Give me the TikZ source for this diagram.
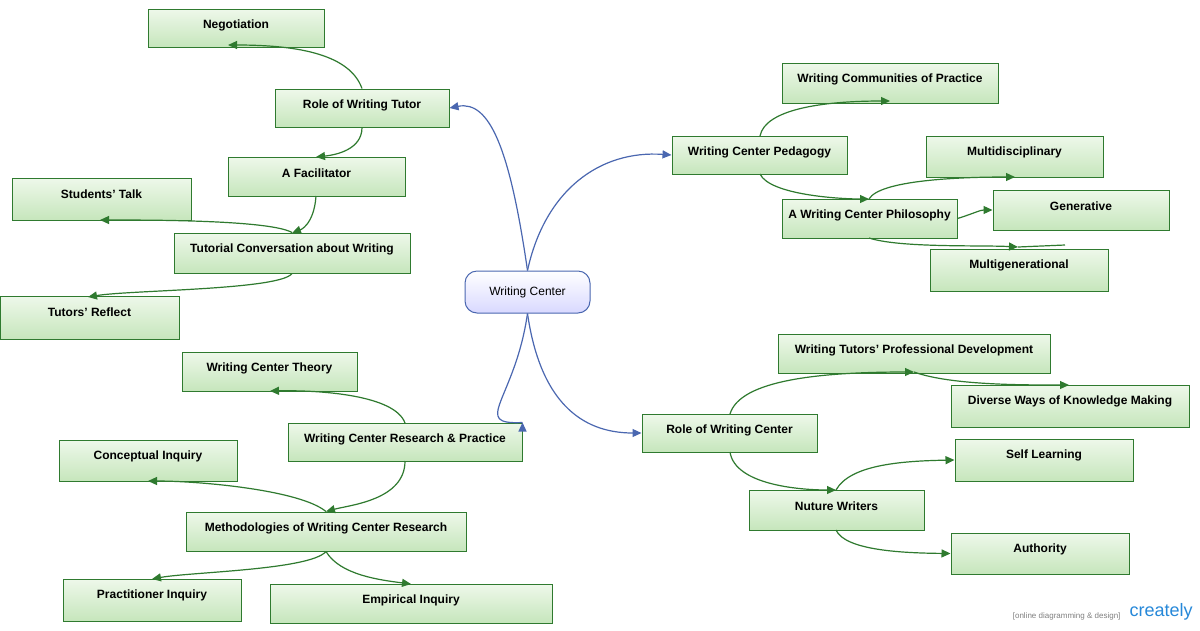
\documentclass[tikz,border=0pt]{standalone}
\usepackage{fontspec}
\setmainfont{Liberation Sans}
\usetikzlibrary{arrows.meta}
\definecolor{gb}{HTML}{2F7A2F}
\definecolor{gtop}{HTML}{EEF8EA}
\definecolor{gbot}{HTML}{C6E6BC}
\definecolor{bl}{HTML}{4A67B0}
\tikzset{
 box/.style={draw=gb,line width=1pt,top color=gtop,bottom color=gbot,inner sep=0pt},
 lbl/.style={font=\fontsize{12}{14}\selectfont\bfseries,inner sep=0pt},
 g/.style={draw=gb,line width=1.2pt,-{Triangle[length=9pt,width=8pt]}},
 b/.style={draw=bl,line width=1.2pt,-{Triangle[length=9pt,width=8pt]}},
}
\newcommand{\bx}[6]{%
 \node[box,minimum width={#4-#2},minimum height={#5-#3}] (#1) at ({(#2+#4)/2},{(#3+#5)/2}) {};
 \node[lbl] (#1-t) at ({(#2+#4)/2},{#3+16}) {#6};}
\begin{document}
\begin{tikzpicture}[x=1pt,y=-1pt]
\useasboundingbox (0,0) rectangle (1200,630);
\fill[white] (0,0) rectangle (1200,630);
\bx{neg}{148}{9}{324}{47}{Negotiation}
\bx{rwt}{275}{89}{449}{127}{Role of Writing Tutor}
\bx{fac}{228}{157}{405}{196}{A Facilitator}
\bx{st}{12}{178}{191}{220}{Students' Talk}
\bx{tc}{174}{233}{410}{273}{Tutorial Conversation about Writing}
\bx{tr}{0}{296}{179}{339}{Tutors' Reflect}
\bx{wct}{182}{352}{357}{391}{Writing Center Theory}
\bx{rp}{288}{423}{522}{461}{Writing Center Research \& Practice}
\bx{ci}{59}{440}{237}{481}{Conceptual Inquiry}
\bx{meth}{186}{512}{466}{551}{Methodologies of Writing Center Research}
\bx{pi}{63}{579}{241}{621}{Practitioner Inquiry}
\bx{ei}{270}{584}{552}{623}{Empirical Inquiry}
\bx{wcp}{782}{63}{998}{103}{Writing Communities of Practice}
\bx{ped}{672}{136}{847}{174}{Writing Center Pedagogy}
\bx{md}{926}{136}{1103}{177}{Multidisciplinary}
\bx{phil}{782}{199}{957}{238}{A Writing Center Philosophy}
\bx{gen}{993}{190}{1169}{230}{Generative}
\bx{mg}{930}{249}{1108}{291}{Multigenerational}
\bx{pd}{778}{334}{1050}{373}{Writing Tutors' Professional Development}
\bx{dw}{951}{385}{1189}{427}{Diverse Ways of Knowledge Making}
\bx{rwc}{642}{414}{817}{452}{Role of Writing Center}
\bx{sl}{955}{439}{1133}{481}{Self Learning}
\bx{nw}{749}{490}{924}{530}{Nuture Writers}
\bx{au}{951}{533}{1129}{574}{Authority}
\node[draw=bl,line width=1pt,rounded corners=12pt,top color=white,bottom color=blue!15,
 minimum width=125,minimum height=42,font=\fontsize{12}{14}\selectfont] (wc) at (527.5,292) {Writing Center};
% blue
\draw[b] (wc.north) .. controls (510,150) and (490,100) .. (rwt.east);
\draw[b] (wc.north) .. controls (545,190) and (600,150) .. (ped.west);
\draw[b] (wc.south) .. controls (515,400) and (470,425) .. (rp.north east) ++(0,0);
\draw[b] (wc.south) .. controls (540,400) and (580,433) .. (rwc.west);
% green
\coordinate (a1) at (228,45); \draw[g] (rwt.north) .. controls (350,55) and (300,45) .. (a1);
\coordinate (a2) at (316,157); \draw[g] (rwt.south) .. controls (362,150) and (335,155) .. (a2);
\coordinate (a3) at (292,233); \coordinate (f1) at (316,196); \draw[g] (f1) .. controls (314,225) and (300,230) .. (a3);
\coordinate (a4) at (100,220); \draw[g] (tc.north) .. controls (270,220) and (150,220) .. (a4);
\coordinate (a5) at (88,297); \draw[g] (tc.south) .. controls (280,290) and (130,290) .. (a5);
\coordinate (r1) at (405,423); \coordinate (r2) at (405,461);
\coordinate (a6) at (270,391); \draw[g] (r1) .. controls (395,395) and (320,390) .. (a6);
\draw[g] (r2) .. controls (405,500) and (350,505) .. (meth.north);
\coordinate (a7) at (148,481); \draw[g] (meth.north) .. controls (300,490) and (200,481) .. (a7);
\coordinate (a8) at (152,579); \draw[g] (meth.south) .. controls (310,570) and (190,572) .. (a8);
\coordinate (a9) at (411,584); \draw[g] (meth.south) .. controls (340,575) and (380,580) .. (a9);
\coordinate (p1) at (760,136); \coordinate (p2) at (760,174);
\coordinate (a10) at (890,101); \draw[g] (p1) .. controls (765,110) and (820,101) .. (a10);
\coordinate (h1) at (869,199); \coordinate (h2) at (869,238);
\draw[g] (p2) .. controls (770,195) and (840,199) .. (h1);
\coordinate (a11) at (1015,177); \draw[g] (h1) .. controls (880,180) and (960,177) .. (a11);
\draw[g] (phil.east) .. controls (975,213) and (980,210) .. (gen.west);
\coordinate (a12) at (1018,247); \coordinate (e12) at (1065,245);
\draw[g] (h2) .. controls (900,248) and (980,245) .. (a12);
\draw[gb,line width=1.2pt] (a12) -- (e12);
\coordinate (w1) at (730,414); \coordinate (w2) at (730,452);
\coordinate (a13) at (914,372); \draw[g] (w1) .. controls (740,380) and (820,372) .. (a13);
\coordinate (a14) at (1069,385); \draw[g] (a13) .. controls (950,385) and (1020,385) .. (a14);
\coordinate (n1) at (836,490); \coordinate (n2) at (836,530);
\draw[g] (w2) .. controls (735,485) and (800,490) .. (n1);
\draw[g] (n1) .. controls (850,465) and (900,461) .. (sl.west);
\draw[g] (n2) .. controls (845,550) and (900,553) .. (au.west);
% watermark
\node[font=\fontsize{8}{9}\selectfont,text=gray,anchor=east] (wm1) at (1124,616) {[online diagramming \& design]};
\node[font=\fontsize{18}{20}\selectfont,text=blue!45!cyan!70!gray,anchor=west] (wm2) at (1126,612) {creately};
\end{tikzpicture}
\end{document}
